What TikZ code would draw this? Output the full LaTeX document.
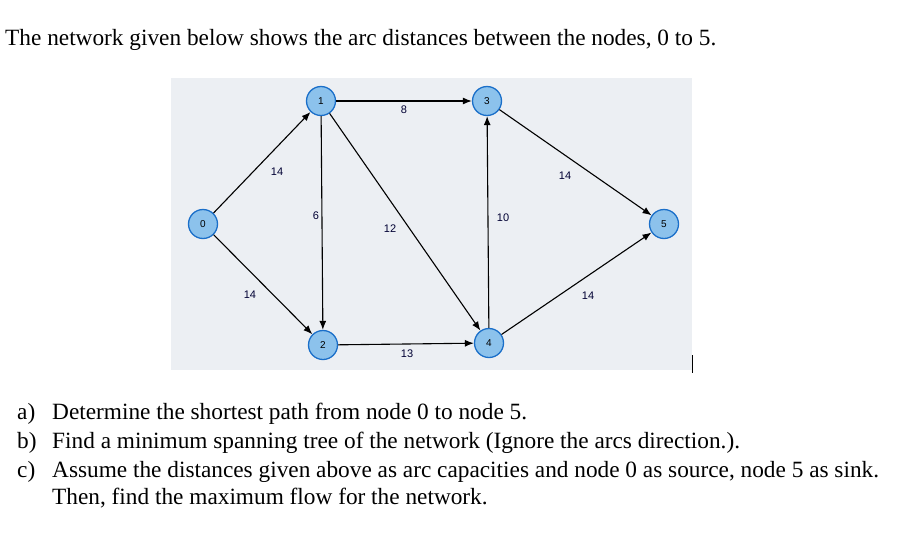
\documentclass[tikz,border=0pt]{standalone}
\usepackage{fontspec}
\setmainfont{Liberation Serif}
\newfontfamily\lblfont{Liberation Sans}
\usetikzlibrary{arrows.meta}
\definecolor{vfill}{HTML}{8CC2EC}
\definecolor{vdraw}{HTML}{1A6FC9}
\definecolor{bgc}{HTML}{ECEFF3}
\begin{document}
\begin{tikzpicture}[x=1pt,y=-1pt,
  vtx/.style={circle,draw=vdraw,fill=vfill,line width=1.3pt,minimum size=29pt,inner sep=0pt,font=\lblfont\fontsize{10}{12}\selectfont},
  arc/.style={-{Latex[length=9pt,width=7pt]},line width=1.1pt},
  wl/.style={font=\lblfont\fontsize{11}{13}\selectfont,text=black!80!blue},
  txt/.style={anchor=base west,inner sep=0pt,font=\fontsize{23.3}{27}\selectfont}]
\useasboundingbox (0,0) rectangle (906,536);
\fill[bgc] (171,78) rectangle (692,370);
\node[vtx] (n0) at (203,224) {0};
\node[vtx] (n1) at (321,101) {1};
\node[vtx] (n3) at (487,101) {3};
\node[vtx] (n2) at (323,345) {2};
\node[vtx] (n4) at (489,343) {4};
\node[vtx] (n5) at (664,224) {5};
\draw[arc] (n0) -- (n1);
\draw[arc] (n0) -- (n2);
\draw[arc] (n1) -- (n3);
\draw[arc] (n1) -- (n2);
\draw[arc] (n1) -- (n4);
\draw[arc] (n2) -- (n4);
\draw[arc] (n4) -- (n3);
\draw[arc] (n3) -- (n5);
\draw[arc] (n4) -- (n5);
\node[wl] (l01) at (277,172) {14};
\node[wl] (l02) at (250,295) {14};
\node[wl] (l12) at (316,216) {6};
\node[wl] (l14) at (390,229) {12};
\node[wl] (l13) at (404,110) {8};
\node[wl] (l43) at (503,218) {10};
\node[wl] (l35) at (565,176) {14};
\node[wl] (l45) at (588,296) {14};
\node[wl] (l24) at (407,354) {13};
\draw[line width=0.8pt] (692,355) -- (692,373);
\node[txt] (t0) at (5,45) {The network given below shows the arc distances between the nodes, 0 to 5.};
\node[txt] (ta) at (17,419) {a)};
\node[txt] (tat) at (52,419) {Determine the shortest path from node 0 to node 5.};
\node[txt] (tb) at (17,448) {b)};
\node[txt] (tbt) at (52,448) {Find a minimum spanning tree of the network (Ignore the arcs direction.).};
\node[txt] (tc) at (17,477) {c)};
\node[txt] (tct) at (52,477) {Assume the distances given above as arc capacities and node 0 as source, node 5 as sink.};
\node[txt] (tct2) at (52,504) {Then, find the maximum flow for the network.};
\end{tikzpicture}
\end{document}
